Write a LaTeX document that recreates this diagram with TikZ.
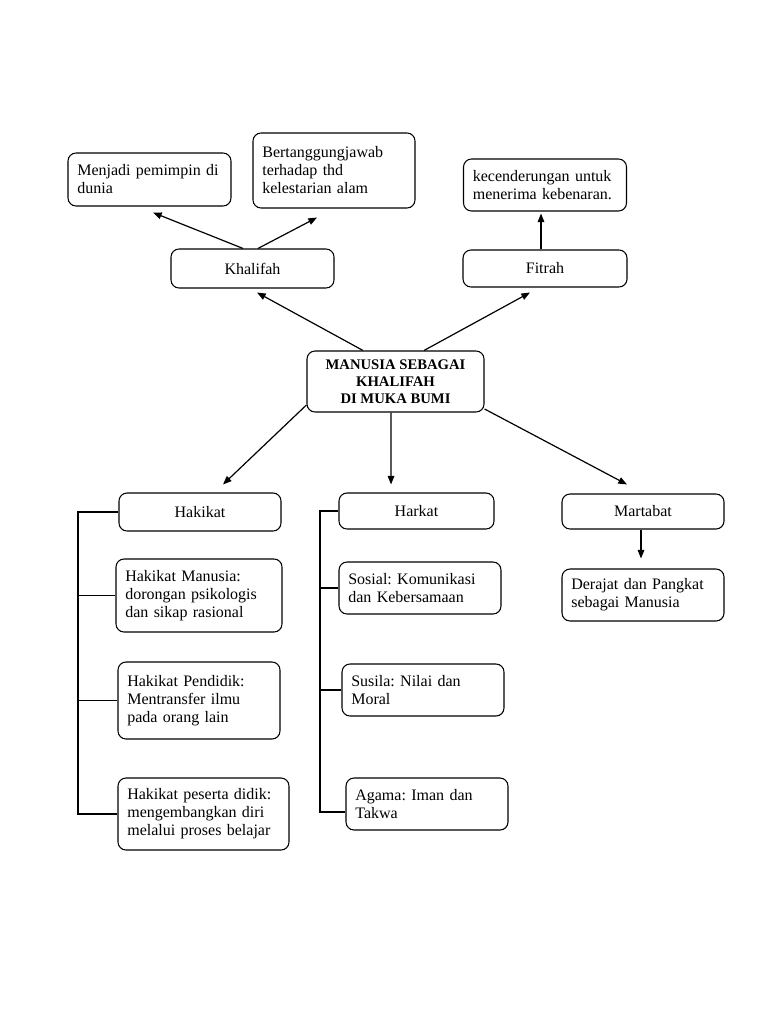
\documentclass[tikz,border=0pt]{standalone}
\usepackage{fontspec}
\setmainfont{Liberation Serif}
\usetikzlibrary{arrows.meta}
\frenchspacing

\begin{document}
\begin{tikzpicture}[x=0.75pt, y=-0.75pt, font=\fontsize{12}{13.5}\selectfont, >={Triangle[length=6.5pt,width=5pt]},
  box/.style={draw, rounded corners=6pt, line width=0.8pt, inner xsep=7pt, inner ysep=2pt},
  tbox/.style={box, align=left, text width=107.5pt},
  lbox/.style={box, align=center, minimum width=121.5pt},
  link/.style={->, line width=0.9pt},
  rail/.style={line width=0.9pt}]
\useasboundingbox (0,0) rectangle (768,1024);
\node[box, align=center, font=\fontsize{11}{12.75}\selectfont\bfseries, minimum width=132.75pt, minimum height=45.75pt] (manusia) at (395.5,381.5) {MANUSIA SEBAGAI\\KHALIFAH\\DI MUKA BUMI};
\node[lbox, minimum width=122.25pt, minimum height=29.25pt] (khalifah) at (252.5,268.5) {Khalifah};
\node[lbox, minimum width=123pt, minimum height=27.75pt] (fitrah) at (545,268.5) {Fitrah};
\node[tbox, text width=108.25pt, minimum height=39.75pt] (pemimpin) at (149.5,179.5) {Menjadi pemimpin di\\dunia};
\node[tbox, minimum height=56.25pt] (lestari) at (334,170.5) {Bertanggungjawab\\terhadap thd\\kelestarian alam};
\node[tbox, text width=108.25pt, minimum height=39pt] (kebenaran) at (545,185) {kecenderungan untuk\\menerima kebenaran.};
\node[lbox, minimum height=28.5pt] (hakikat) at (200,512) {Hakikat};
\node[lbox, minimum width=116.25pt, minimum height=27pt] (harkat) at (416.5,511) {Harkat};
\node[lbox, minimum height=26.25pt] (martabat) at (643,511.5) {Martabat};
\node[tbox, text width=110.5pt, minimum height=54.75pt] (hmanusia) at (199,595.5) {Hakikat Manusia:\\dorongan psikologis\\dan sikap rasional};
\node[tbox, minimum height=57.75pt] (hpendidik) at (199,700.5) {Hakikat Pendidik:\\Mentransfer ilmu\\pada orang lain};
\node[tbox, text width=114.25pt, minimum height=54pt] (hpeserta) at (203.5,814) {Hakikat peserta didik:\\mengembangkan diri\\melalui proses belajar};
\node[tbox, minimum height=39pt] (sosial) at (420,588) {Sosial: Komunikasi\\dan Kebersamaan};
\node[tbox, minimum height=39pt] (susila) at (423,690) {Susila: Nilai dan\\Moral};
\node[tbox, minimum height=39pt] (agama) at (427,804) {Agama: Iman dan\\Takwa};
\node[tbox, minimum height=39pt] (derajat) at (643,595) {Derajat dan Pangkat\\sebagai Manusia};
\draw[link] ([xshift=-24.4pt]manusia.north) -- ([xshift=3.4pt,yshift=-3pt]khalifah.south);
\draw[link] ([xshift=21.4pt]manusia.north) -- ([xshift=-11.25pt,yshift=-3.75pt]fitrah.south);
\draw[link] ([xshift=-7.1pt]khalifah.north) -- ([xshift=2.6pt,yshift=-4.5pt]pemimpin.south);
\draw[link] ([xshift=4.1pt]khalifah.north) -- ([xshift=-12.75pt,yshift=-6.75pt]lestari.south);
\draw[link] ([xshift=-3pt]fitrah.north) -- ([xshift=-3pt,yshift=-1.5pt]kebenaran.south);
\draw[link] ([yshift=-17.6pt]manusia.west) -- ([xshift=17.25pt,yshift=6pt]hakikat.north);
\draw[link] ([xshift=-3.4pt]manusia.south) -- ([xshift=-19.1pt,yshift=6pt]harkat.north);
\draw[link] ([yshift=-20.6pt]manusia.east) -- ([xshift=-12pt,yshift=6.75pt]martabat.north);
\draw[link] ([xshift=-1.5pt]martabat.south) -- ([xshift=-1.5pt,yshift=7.5pt]derajat.north);
\coordinate (hkrail) at (78,512);
\draw[rail] (hakikat.west) -- (hkrail) |- (hpeserta.west);
\foreach \n in {hmanusia,hpendidik} \draw[rail] (\n.west) -- (\n.west -| hkrail);
\coordinate (hrrail) at (320,511);
\draw[rail] (harkat.west) -- (hrrail) |- ([yshift=-6pt]agama.west);
\foreach \n in {sosial,susila} \draw[rail] (\n.west) -- (\n.west -| hrrail);
\end{tikzpicture}
\end{document}
